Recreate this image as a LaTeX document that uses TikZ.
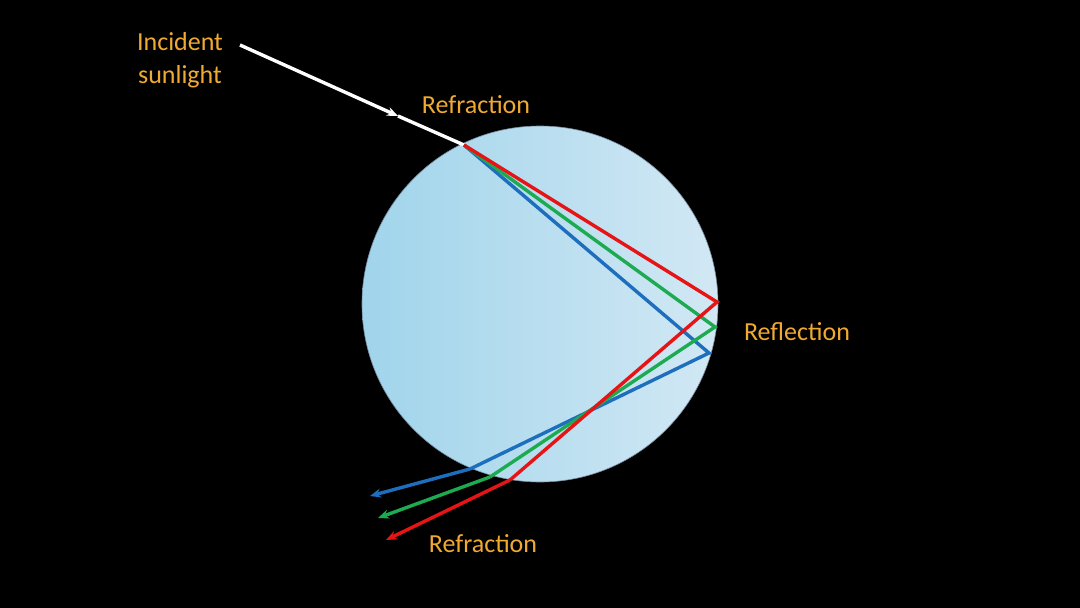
\documentclass[tikz,border=0pt]{standalone}
\usepackage{fontspec}
\setmainfont{Carlito}
\usetikzlibrary{arrows.meta}
\definecolor{lbl}{RGB}{240,170,50}
\definecolor{rr}{RGB}{230,20,20}
\definecolor{gg}{RGB}{30,170,80}
\definecolor{bb}{RGB}{30,110,190}
\begin{document}
\begin{tikzpicture}[x=1pt,y=-1pt,
  lab/.style={text=lbl,font=\fontsize{26}{33}\selectfont,align=center},
  ray/.style={line width=3.4pt,line join=miter},
  tip/.style={-{Stealth[length=11pt,width=9pt]}}]
\fill[black] (0,0) rectangle (1080,608);
\useasboundingbox (0,0) rectangle (1080,608);
\shade[left color={rgb,255:red,160;green,212;blue,235},right color={rgb,255:red,210;green,232;blue,244},draw={rgb,255:red,120;green,140;blue,160},line width=0.6pt] (540,304) circle (178);
\coordinate (in) at (464,145);
\coordinate (src) at (240,45);
\coordinate (mid) at (398,116);
\coordinate (rR) at (717,302);
\coordinate (rG) at (715,327);
\coordinate (rB) at (709,353);
\coordinate (eR) at (510,480);
\coordinate (eG) at (490,477);
\coordinate (eB) at (470,469);
\coordinate (aR) at (386,540);
\coordinate (aG) at (378,518);
\coordinate (aB) at (370,496);
\draw[ray,white,tip] (src) -- (mid);
\draw[ray,white] (mid) -- (in);
\draw[ray,bb] (in) -- (rB) -- (eB);
\draw[ray,bb,tip] (eB) -- (aB);
\draw[ray,gg] (in) -- (rG) -- (eG);
\draw[ray,gg,tip] (eG) -- (aG);
\draw[ray,rr] (in) -- (rR) -- (eR);
\draw[ray,rr,tip] (eR) -- (aR);
\node[lab] (t1) at (180,60) {Incident\\sunlight};
\node[lab] (t2) at (476,105) {Refraction};
\node[lab] (t3) at (797,332) {Reflection};
\node[lab] (t4) at (483,544) {Refraction};
\end{tikzpicture}
\end{document}
